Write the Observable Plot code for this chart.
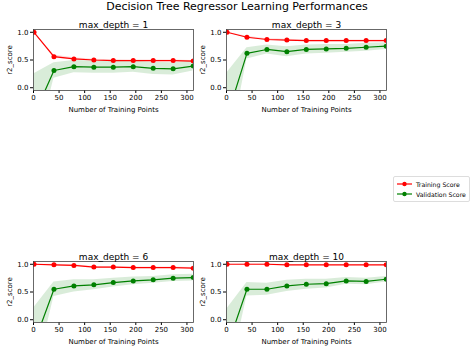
<!DOCTYPE html>
<html>
<head>
<meta charset="utf-8">
<script src="https://cdn.jsdelivr.net/npm/d3@7"></script>
<script src="https://cdn.jsdelivr.net/npm/@observablehq/plot@0.6"></script>
<style>
  body { margin: 0; background: #fff; font-family: "DejaVu Sans", sans-serif; }
  #wrap { position: relative; width: 474px; height: 350px; overflow: hidden; background: #fff; }
  #title { position: absolute; left: 0; width: 474px; top: 0px; text-align: center; font-size: 11px; line-height: 14px; color: #000; z-index: 2; }
  .panel { position: absolute; }
  #legend { position: absolute; left: 393px; top: 176px; box-sizing: border-box; border: 1px solid #ddd; border-radius: 2px; background: #fff; padding: 2px 3px 2px 0; font-size: 6.2px; white-space: nowrap; z-index: 2; }
  #legend .row { display: flex; align-items: center; height: 10px; }
  #legend svg { margin: 0 4px 0 3px; flex: none; }
</style>
</head>
<body>
<div id="wrap">
  <div id="title">Decision Tree Regressor Learning Performances</div>
  <div id="legend">
    <div class="row"><svg width="15" height="6"><line x1="0" y1="3" x2="15" y2="3" stroke="#ff0000" stroke-width="1.2"/><circle cx="7.5" cy="3" r="2.2" fill="#ff0000"/></svg>Training Score</div>
    <div class="row"><svg width="15" height="6"><line x1="0" y1="3" x2="15" y2="3" stroke="#008000" stroke-width="1.2"/><circle cx="7.5" cy="3" r="2.2" fill="#008000"/></svg>Validation Score</div>
  </div>
</div>
<script>
const sizes = [1, 40, 79, 118, 156, 195, 234, 273, 312];
const depths = [1, 3, 6, 10];

const trainMean1 = [1.00, 0.56, 0.52, 0.50, 0.49, 0.49, 0.49, 0.49, 0.48];
const trainStd1  = [0.00, 0.03, 0.02, 0.015, 0.015, 0.012, 0.012, 0.012, 0.012];
const testMean1  = [-0.50, 0.31, 0.38, 0.37, 0.37, 0.38, 0.35, 0.34, 0.39];
const testStd1   = [0.75, 0.14, 0.11, 0.11, 0.11, 0.10, 0.11, 0.11, 0.09];

const trainMean3 = [1.00, 0.91, 0.87, 0.86, 0.85, 0.85, 0.85, 0.85, 0.85];
const trainStd3  = [0.00, 0.02, 0.015, 0.012, 0.01, 0.01, 0.01, 0.01, 0.01];
const testMean3  = [-0.53, 0.62, 0.69, 0.65, 0.69, 0.70, 0.71, 0.73, 0.75];
const testStd3   = [0.80, 0.10, 0.08, 0.09, 0.08, 0.08, 0.07, 0.07, 0.06];

const trainMean6 = [1.00, 0.99, 0.98, 0.95, 0.95, 0.94, 0.94, 0.94, 0.93];
const trainStd6  = [0.00, 0.01, 0.01, 0.01, 0.01, 0.01, 0.01, 0.01, 0.01];
const testMean6  = [-0.43, 0.55, 0.61, 0.63, 0.67, 0.70, 0.72, 0.75, 0.76];
const testStd6   = [0.65, 0.13, 0.11, 0.09, 0.08, 0.07, 0.06, 0.06, 0.06];

const trainMean10 = [1.00, 1.00, 1.00, 0.99, 0.99, 0.99, 0.99, 0.99, 0.99];
const trainStd10  = [0.00, 0.004, 0.004, 0.004, 0.004, 0.004, 0.004, 0.004, 0.004];
const testMean10  = [-0.50, 0.55, 0.55, 0.61, 0.64, 0.65, 0.70, 0.69, 0.73];
const testStd10   = [0.70, 0.12, 0.11, 0.10, 0.09, 0.08, 0.06, 0.06, 0.05];

const panels = [
  {depth: depths[0], trainMean: trainMean1, trainStd: trainStd1, testMean: testMean1, testStd: testStd1, left: 0, top: 10},
  {depth: depths[1], trainMean: trainMean3, trainStd: trainStd3, testMean: testMean3, testStd: testStd3, left: 193, top: 10},
  {depth: depths[2], trainMean: trainMean6, trainStd: trainStd6, testMean: testMean6, testStd: testStd6, left: 0, top: 242},
  {depth: depths[3], trainMean: trainMean10, trainStd: trainStd10, testMean: testMean10, testStd: testStd10, left: 193, top: 242}
];

const RED = "#ff0000", GREEN = "#008000";
const wrap = document.getElementById("wrap");

for (const p of panels) {
  const rows = sizes.map((s, i) => ({
    x: s,
    tr: p.trainMean[i], trLo: p.trainMean[i] - p.trainStd[i], trHi: p.trainMean[i] + p.trainStd[i],
    te: p.testMean[i], teLo: p.testMean[i] - p.testStd[i], teHi: p.testMean[i] + p.testStd[i]
  }));
  const chart = Plot.plot({
    width: 200, height: 105,
    marginLeft: 33, marginRight: 7, marginTop: 19, marginBottom: 25,
    style: {fontFamily: "DejaVu Sans", fontSize: "7px", color: "#000", background: "transparent"},
    x: {domain: [0, 312.8], ticks: [0, 50, 100, 150, 200, 250, 300], tickSize: 3, tickPadding: 2,
        label: "Number of Training Points", labelAnchor: "center", labelOffset: 21, labelArrow: "none"},
    y: {domain: [-0.05, 1.05], ticks: [0, 0.5, 1], tickFormat: ".1f", tickSize: 3, tickPadding: 2,
        label: "r2_score", labelAnchor: "center", labelOffset: 26, labelArrow: "none"},
    marks: [
      Plot.areaY(rows, {x: "x", y1: "trLo", y2: "trHi", fill: RED, fillOpacity: 0.15, clip: true}),
      Plot.areaY(rows, {x: "x", y1: "teLo", y2: "teHi", fill: GREEN, fillOpacity: 0.15, clip: true}),
      Plot.line(rows, {x: "x", y: "tr", stroke: RED, strokeWidth: 1.2, clip: true}),
      Plot.line(rows, {x: "x", y: "te", stroke: GREEN, strokeWidth: 1.2, clip: true}),
      Plot.dot(rows, {x: "x", y: "tr", fill: RED, r: 2.5, clip: true}),
      Plot.dot(rows, {x: "x", y: "te", fill: GREEN, r: 2.5, clip: true}),
      Plot.frame({stroke: "#444", strokeWidth: 0.8}),
      Plot.text([`max_depth = ${p.depth}`], {frameAnchor: "top", lineAnchor: "bottom", dy: -2, fontSize: 9})
    ]
  });
  chart.classList.add("panel");
  chart.style.left = p.left + "px";
  chart.style.top = p.top + "px";
  chart.style.position = "absolute";
  wrap.appendChild(chart);
}
</script>
</body>
</html>
